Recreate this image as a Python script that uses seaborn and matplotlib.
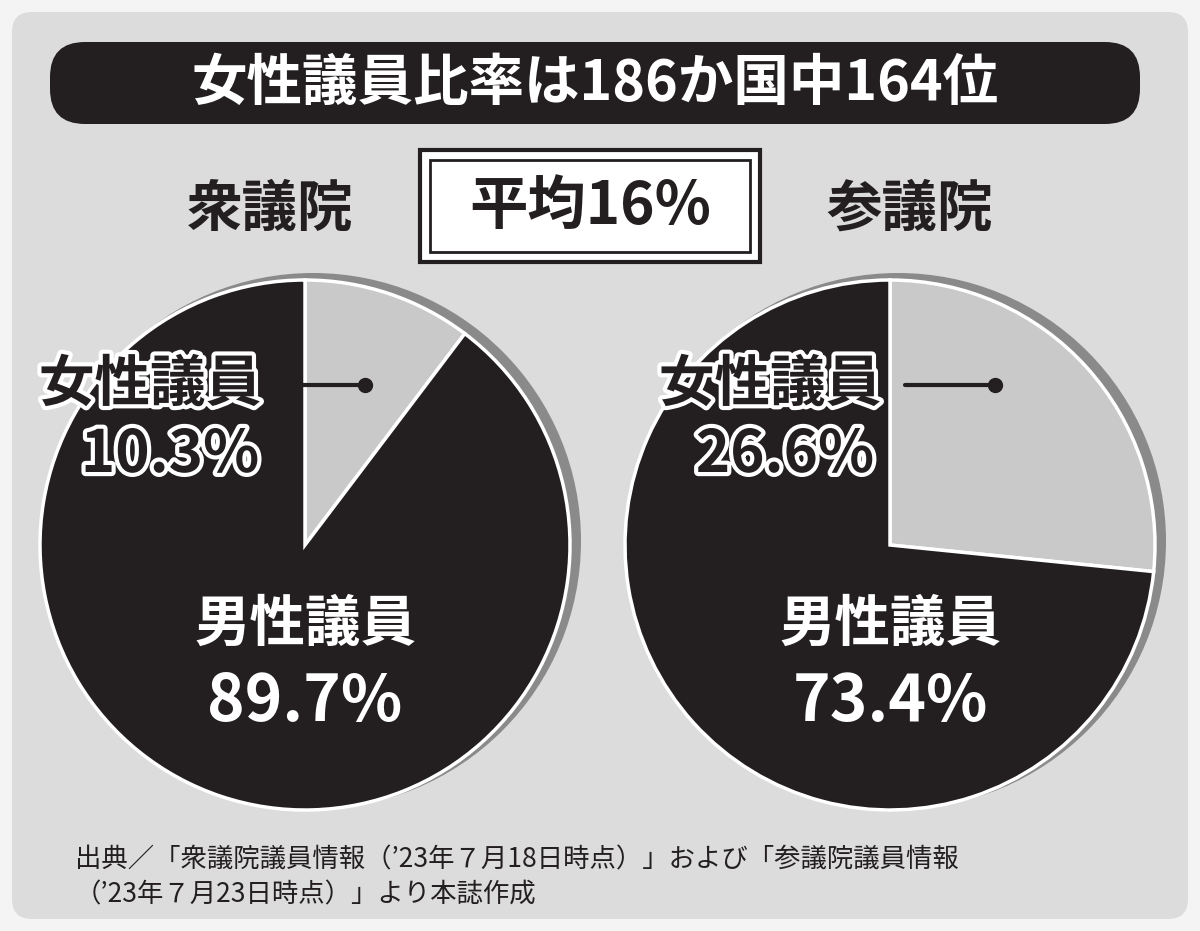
import matplotlib
matplotlib.use("Agg")
import matplotlib.pyplot as plt
import seaborn as sns
from matplotlib.patches import FancyBboxPatch, Rectangle
import matplotlib.patheffects as pe

sns.set_theme(style="white")
plt.rcParams['font.family'] = ['Noto Sans CJK JP', 'DejaVu Sans']

title = "女性議員比率は186か国中164位"
average_label = "平均16%"
houses = ["衆議院", "参議院"]
women_pct = [10.3, 26.6]
men_pct = [89.7, 73.4]
source_lines = ["出典／「衆議院議員情報（’23年７月18日時点）」および「参議院議員情報",
                "（’23年７月23日時点）」より本誌作成"]

fig = plt.figure(figsize=(12, 9.31), dpi=100)
fig.patch.set_facecolor("#f4f4f4")
ax = fig.add_axes([0, 0, 1, 1])
ax.set_xlim(0, 1200); ax.set_ylim(931, 0); ax.set_aspect("equal"); ax.axis("off")

ax.add_patch(FancyBboxPatch((12, 12), 1176, 907, boxstyle="round,pad=0,rounding_size=20",
                            fc="#dcdcdc", ec="none"))
ax.add_patch(FancyBboxPatch((50, 42), 1090, 82, boxstyle="round,pad=0,rounding_size=35",
                            fc="#231f20", ec="none"))
ax.text(595, 84, title, color="white", fontsize=40, fontweight="bold", ha="center", va="center")

ax.add_patch(Rectangle((420, 150), 340, 112, fc="white", ec="#231f20", lw=3))
ax.add_patch(Rectangle((430, 160), 320, 92, fc="white", ec="#231f20", lw=2))
ax.text(590, 207, average_label, fontsize=42, fontweight="bold", ha="center", va="center", color="#231f20")

centers = [(305, 545), (890, 545)]
hx = [270, 910]
stroke = [pe.withStroke(linewidth=6, foreground="white")]
for i, (cx, cy) in enumerate(centers):
    ax.text(hx[i], 210, houses[i], fontsize=40, fontweight="bold", ha="center", va="center", color="#231f20")
    ax.add_patch(plt.Circle((cx + 8, cy - 4), 268, fc="#8a8a8a", ec="none"))
    ax.pie([women_pct[i], men_pct[i]], center=(cx, cy), radius=265, startangle=-90,
           counterclock=True, colors=["#c9c9c9", "#231f20"],
           wedgeprops=dict(edgecolor="white", linewidth=2.5))
ax.set_xlim(0, 1200); ax.set_ylim(931, 0); ax.set_aspect("equal")

ax.text(150, 385, "女性議員", fontsize=40, fontweight="bold", ha="center", va="center",
        color="#231f20", path_effects=stroke)
ax.text(170, 455, f"{women_pct[0]}%", fontsize=42, fontweight="bold", ha="center", va="center",
        color="#231f20", path_effects=stroke)
ax.plot([285, 365], [385, 385], color="#231f20", lw=3)
ax.plot(365, 385, "o", color="#231f20", ms=10)
ax.text(770, 385, "女性議員", fontsize=40, fontweight="bold", ha="center", va="center",
        color="#231f20", path_effects=stroke)
ax.text(785, 455, f"{women_pct[1]}%", fontsize=42, fontweight="bold", ha="center", va="center",
        color="#231f20", path_effects=stroke)
ax.plot([905, 995], [385, 385], color="#231f20", lw=3)
ax.plot(995, 385, "o", color="#231f20", ms=10)

for i, (cx, cy) in enumerate(centers):
    ax.text(cx, 625, "男性議員", fontsize=40, fontweight="bold", ha="center", va="center", color="white")
    ax.text(cx, 702, f"{men_pct[i]}%", fontsize=46, fontweight="bold", ha="center", va="center", color="white")

ax.text(75, 860, source_lines[0], fontsize=19, ha="left", va="center", color="#231f20")
ax.text(75, 895, source_lines[1], fontsize=19, ha="left", va="center", color="#231f20")

fig.savefig("out.png", dpi=100)
